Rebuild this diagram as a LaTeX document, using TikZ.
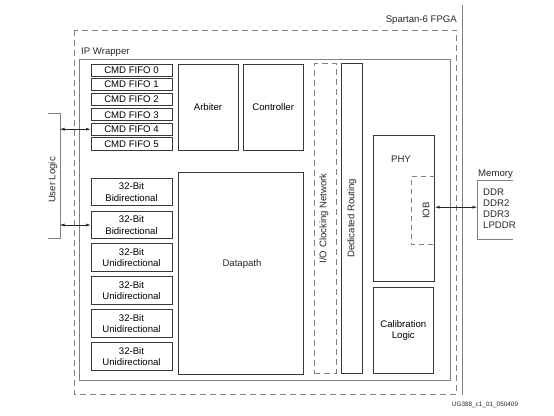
\documentclass[tikz,border=0pt]{standalone}
\usepackage{fontspec}
\setmainfont{Liberation Sans}
\usetikzlibrary{arrows.meta}

\begin{document}
\begin{tikzpicture}[x=1pt,y=1pt,yscale=-1,xscale=1,
  blk/.style={draw=black!78, line width=0.9pt, inner sep=0pt, align=center, font=\fontsize{9.6}{11.6}\selectfont},
  fifo/.style={blk, minimum width=81pt, minimum height=12.3pt},
  bitbox/.style={blk, minimum width=81pt, minimum height=27.7pt},
  txt/.style={inner sep=0pt, text=black!85, font=\fontsize{9.6}{11.6}\selectfont},
  grayline/.style={draw=black!50, line width=0.9pt},
  dashline/.style={draw=black!50, line width=0.9pt, dash pattern=on 6pt off 4pt},
  dbl/.style={{Latex[length=4.5pt,width=3pt]}-{Latex[length=4.5pt,width=3pt]}, line width=0.5pt, black!85}]
\useasboundingbox (0,0) rectangle (554,415);

%Shape: Line [right edge of the device]
\draw [grayline, line width=1.3pt] (462.7,5) -- (462.7,395);
%Shape: Rectangle [FPGA]
\draw [dashline] (74,30) rectangle (456.7,394.3);
%Shape: Rectangle [IP wrapper]
\draw [grayline] (79,59) rectangle (450.7,380);

% Text Node
\draw (457,23) node [anchor=base east][txt] {Spartan-6 FPGA};
% Text Node
\draw (81,54) node [anchor=base west][txt] {IP Wrapper};

%Shape: CMD FIFOs
\node [fifo] (fifo0) at (131.5,70.2) {CMD FIFO 0};
\node [fifo] (fifo1) at (131.5,84.2) {CMD FIFO 1};
\node [fifo] (fifo2) at (131.5,99.3) {CMD FIFO 2};
\node [fifo] (fifo3) at (131.5,114.7) {CMD FIFO 3};
\node [fifo] (fifo4) at (131.5,129.2) {CMD FIFO 4};
\node [fifo] (fifo5) at (131.5,144) {CMD FIFO 5};

%Shape: 32-bit ports
\node [bitbox] (port0) at (131.5,192) {32-Bit\\Bidirectional};
\node [bitbox] (port1) at (131.5,225) {32-Bit\\Bidirectional};
\node [bitbox] (port2) at (131.5,257.7) {32-Bit\\Unidirectional};
\node [bitbox] (port3) at (131.5,290.5) {32-Bit\\Unidirectional};
\node [bitbox] (port4) at (131.5,323.5) {32-Bit\\Unidirectional};
\node [bitbox] (port5) at (131.5,356.5) {32-Bit\\Unidirectional};

%Shape: Arbiter, Controller, Datapath
\node [blk, minimum width=60pt, minimum height=86pt] (arbiter) at (208,107) {Arbiter};
\node [blk, minimum width=60.3pt, minimum height=86pt] (ctrl) at (273.2,107) {Controller};
\node [blk, minimum width=125pt, minimum height=201.6pt] (datapath) at (240.5,273.5) {};
\draw (242,264) node [txt] {Datapath};

%Shape: I/O clocking network (dashed) and dedicated routing
\node [blk, draw=black!50, dash pattern=on 6pt off 4pt, minimum width=21.7pt, minimum height=310pt] (ioclk) at (325.2,218.3) {};
\draw (324,218.3) node [txt, rotate=90] {I/O Clocking Network};
\node [blk, minimum width=21pt, minimum height=310pt] (route) at (352.2,218.3) {};
\draw (352,218.3) node [txt, rotate=90] {Dedicated Routing};

%Shape: PHY with IOB
\node [blk, minimum width=61pt, minimum height=146.7pt] (phy) at (404.2,208.3) {};
\draw (401,159) node [txt] {PHY};
\node [inner sep=0pt, minimum width=23.3pt, minimum height=67.3pt] (iob) at (423.3,210.7) {};
\draw [dashline, dash pattern=on 5pt off 4pt] (iob.north east) -- (iob.north west) -- (iob.south west) -- (iob.south east);
\draw (426,210.7) node [txt, rotate=90] {IOB};
\node [blk, minimum width=60pt, minimum height=85.6pt] (calib) at (403.3,330.5) {Calibration\\Logic};

%Shape: User logic bracket
\coordinate (ul) at (60,113);
\draw [grayline, line width=1pt] (48,113) -- (ul) -- (60,238) -- (48,238);
\draw (53,180) node [txt, rotate=90] {User Logic};

%Shape: Memory bracket
\coordinate (mem) at (477,180);
\draw [grayline, line width=1pt] (513,180) -- (mem) -- (477,239) -- (513,239);
\draw (478,176) node [anchor=base west][txt] {Memory};
\draw (483,188.5) node [anchor=north west][txt, align=left, font=\fontsize{9.6}{11.2}\selectfont] {DDR\\DDR2\\DDR3\\LPDDR};

%Arrows
\draw [dbl] (fifo4.west -| ul) -- (fifo4.west);
\draw [dbl] (port1.west -| ul) -- (port1.west);
\draw [dbl] ([yshift=-3.5pt]iob.east) -- ([yshift=-3.5pt]iob.east -| mem);

% Text Node
\draw (485,405) node [txt, font=\fontsize{6.4}{7}\selectfont] {UG388\_c1\_01\_050409};
\end{tikzpicture}
\end{document}
